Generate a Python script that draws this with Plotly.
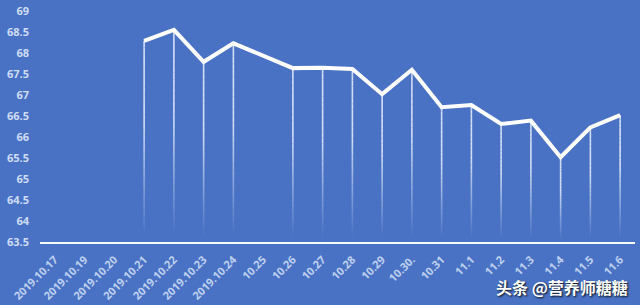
import plotly.graph_objects as go

categories = ["2019.10.17", "2019.10.19", "2019.10.20", "2019.10.21", "2019.10.22",
              "2019.10.23", "2019.10.24", "10.25", "10.26", "10.27", "10.28", "10.29",
              "10.30.", "10.31", "11.1", "11.2", "11.3", "11.4", "11.5", "11.6"]
weights = [None, None, None, 68.29, 68.55, 67.79, 68.23, None, 67.64, 67.65, 67.62,
           67.02, 67.6, 66.71, 66.76, 66.31, 66.39, 65.52, 66.23, 66.52]
y_ticks = [63.5, 64, 64.5, 65, 65.5, 66, 66.5, 67, 67.5, 68, 68.5, 69]
y_min, y_max = 63.5, 69

BG = "#4a72c4"
fig = go.Figure()

# fading drop lines (gradient approximated by bands)
n_bands = 30
for b in range(n_bands):
    t0, t1 = b / n_bands, (b + 1) / n_bands
    tm = (t0 + t1) / 2
    if tm < 0.4:
        alpha = 0.85
    else:
        alpha = max(0.0, 0.85 * (1 - (tm - 0.4) / 0.57))
    xs, ys = [], []
    for c, v in zip(categories, weights):
        if v is None:
            continue
        L = v - y_min
        xs += [c, c, None]
        ys += [v - t0 * L, v - t1 * L, None]
    fig.add_trace(go.Scatter(x=xs, y=ys, mode="lines",
                             line=dict(color=f"rgba(235,242,255,{alpha:.3f})", width=1.6),
                             hoverinfo="skip", showlegend=False))

fig.add_trace(go.Scatter(x=categories, y=weights, mode="lines", connectgaps=True,
                         line=dict(color="white", width=4), showlegend=False))

fig.update_layout(
    width=640, height=305,
    margin=dict(l=40, r=5, t=11, b=63),
    paper_bgcolor=BG, plot_bgcolor=BG,
    xaxis=dict(type="category", categoryorder="array", categoryarray=categories,
               range=[-0.5, len(categories) - 0.5], tickangle=-45, automargin=False,
               showgrid=False, zeroline=False, showline=True,
               linecolor="rgba(255,255,255,0.95)", linewidth=2,
               ticks="", ticklabelstandoff=5,
               tickfont=dict(family="Open Sans", size=11, color="rgba(215,227,248,0.85)", weight="bold")),
    yaxis=dict(range=[y_min, y_max], tickvals=y_ticks, automargin=False,
               ticktext=[f"{v:g}" for v in y_ticks],
               showgrid=False, zeroline=False, showline=False, ticks="",
               ticklabelstandoff=10,
               tickfont=dict(family="Open Sans", size=11, color="rgba(222,232,250,0.92)", weight="bold")),
    annotations=[dict(text="头条 @营养师糖糖", xref="paper", yref="paper",
                      x=(630 - 40) / 595, y=(242 - 287) / 231, xanchor="right", yanchor="middle",
                      showarrow=False,
                      font=dict(family="Noto Sans CJK SC", size=16, color="white", weight="bold",
                                shadow="1px 1px 2px rgba(0,0,0,0.9)"))],
)

fig.write_html("out.html")
